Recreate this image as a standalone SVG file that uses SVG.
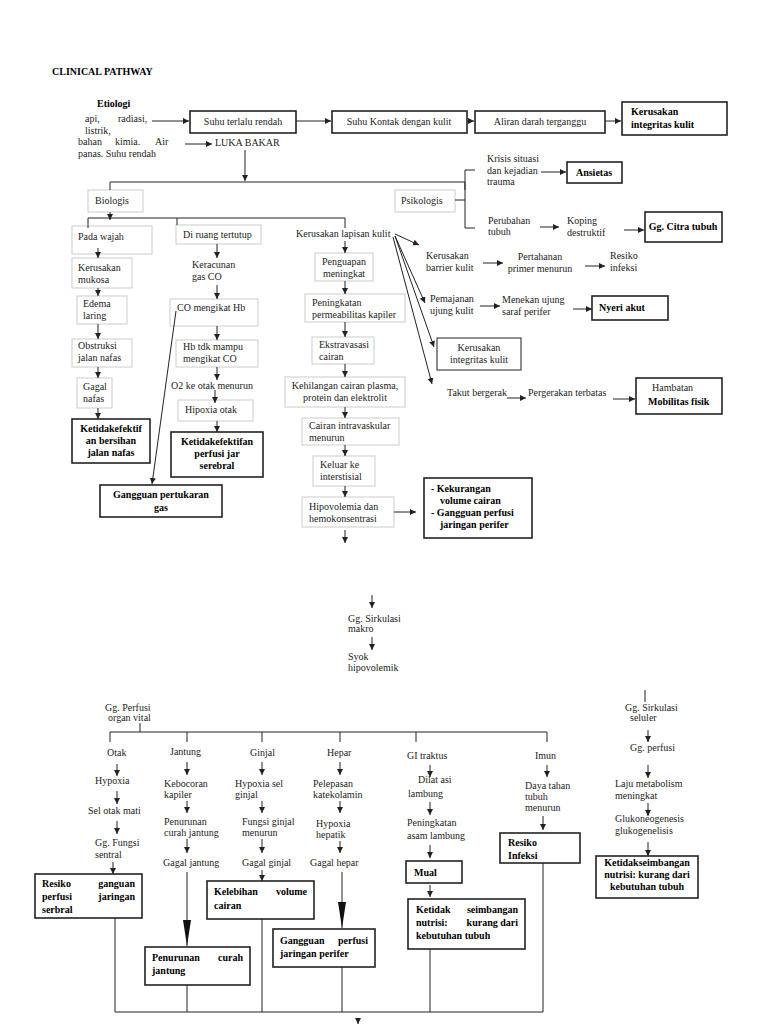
<svg xmlns="http://www.w3.org/2000/svg" width="768" height="1024" viewBox="0 0 768 1024">
<style>
text{font-family:"Liberation Serif",serif;font-size:10px;fill:#222}
.b{font-weight:bold;fill:#000}
.lt{fill:#fff;stroke:#ccc;stroke-width:1}
.bx{fill:#fff;stroke:#222;stroke-width:1.6}
.md{fill:#fff;stroke:#333;stroke-width:1.1}
.c line,.c path,.c polyline{stroke:#222;stroke-width:1;fill:none}
.a{marker-end:url(#ah)}
.m{text-anchor:middle}
.e{text-anchor:end}
</style>
<defs>
<marker id="ah" markerWidth="7" markerHeight="7" refX="6" refY="3" orient="auto" markerUnits="userSpaceOnUse"><path d="M0,0 L6,3 L0,6z" fill="#222"/></marker>
<marker id="big" markerWidth="27" markerHeight="9" refX="26" refY="4" orient="auto" markerUnits="userSpaceOnUse"><path d="M0,0 L26,4 L0,8z" fill="#111"/></marker>
</defs>
<rect width="768" height="1024" fill="#fff"/>
<text x="52" y="75" class="b">CLINICAL PATHWAY</text>

<g id="etiologi"><text x="97" y="107" class="b">Etiologi</text><text x="85" y="122">api,</text><text x="118" y="122">radiasi,</text><text x="85" y="134">listrik,</text><text x="78" y="145">bahan</text><text x="115" y="145">kimia.</text><text x="155" y="145">Air</text><text x="78" y="157">panas. Suhu rendah</text></g>
<g id="n1"><rect class="bx" x="190" y="111" width="106" height="22"/><text x="243" y="125" class="m">Suhu terlalu rendah</text></g>
<g id="n2"><rect class="bx" x="332" y="111" width="135" height="22"/><text x="399" y="125" class="m">Suhu Kontak dengan kulit</text></g>
<g id="n3"><rect class="bx" x="475" y="111" width="130" height="22"/><text x="540" y="125" class="m">Aliran darah terganggu</text></g>
<g id="n4"><rect class="bx" x="622" y="102" width="105" height="33"/><text x="631" y="115" class="b">Kerusakan</text><text x="631" y="128" class="b">integritas kulit</text></g>
<g id="luka"><text x="215" y="146">LUKA BAKAR</text></g>
<g id="biologis"><rect class="lt" x="88" y="190" width="55" height="22"/><text x="95" y="204">Biologis</text></g>
<g id="psikologis"><rect class="lt" x="395" y="190" width="60" height="22"/><text x="401" y="204">Psikologis</text></g>

<g id="c1">
<rect class="lt" x="72" y="226" width="80" height="28"/><text x="78" y="240">Pada wajah</text>
<rect class="lt" x="72" y="258" width="60" height="30"/><text x="78" y="271">Kerusakan</text><text x="78" y="283">mukosa</text>
<rect class="lt" x="77" y="296" width="50" height="28"/><text x="83" y="307">Edema</text><text x="83" y="319">laring</text>
<rect class="lt" x="72" y="339" width="60" height="28"/><text x="78" y="349">Obstruksi</text><text x="78" y="361">jalan nafas</text>
<rect class="lt" x="77" y="378" width="35" height="30"/><text x="83" y="390">Gagal</text><text x="83" y="402">nafas</text>
<rect class="bx" x="72" y="419" width="78" height="44"/><text x="111" y="432" class="b m">Ketidakefektif</text><text x="111" y="444" class="b m">an bersihan</text><text x="111" y="456" class="b m">jalan nafas</text>
</g>
<g id="c2">
<rect class="lt" x="176" y="225" width="85" height="19"/><text x="183" y="238">Di ruang tertutup</text>
<text x="192" y="268">Keracunan</text><text x="192" y="280">gas CO</text>
<rect class="lt" x="170" y="299" width="88" height="27"/><text x="177" y="311">CO mengikat Hb</text>
<rect class="lt" x="176" y="340" width="82" height="27"/><text x="183" y="350">Hb tdk mampu</text><text x="183" y="362">mengikat CO</text>
<text x="171" y="389">O2 ke otak menurun</text>
<rect class="lt" x="178" y="400" width="75" height="21"/><text x="185" y="413">Hipoxia otak</text>
<rect class="bx" x="171" y="432" width="92" height="45"/><text x="217" y="445" class="b m">Ketidakefektifan</text><text x="217" y="457" class="b m">perfusi jar</text><text x="217" y="469" class="b m">serebral</text>
<rect class="bx" x="100" y="485" width="122" height="32"/><text x="161" y="498" class="b m">Gangguan pertukaran</text><text x="161" y="511" class="b m">gas</text>
</g>
<g id="c3">
<text x="296" y="237">Kerusakan lapisan kulit</text>
<rect class="lt" x="315" y="253" width="58" height="28"/><text x="344" y="265" class="m">Penguapan</text><text x="344" y="277" class="m">meningkat</text>
<rect class="lt" x="305" y="294" width="100" height="28"/><text x="312" y="306">Peningkatan</text><text x="312" y="318">permeabilitas kapiler</text>
<rect class="lt" x="312" y="337" width="62" height="27"/><text x="319" y="348">Ekstravasasi</text><text x="319" y="360">cairan</text>
<rect class="lt" x="285" y="377" width="120" height="30"/><text x="345" y="389" class="m">Kehilangan cairan plasma,</text><text x="345" y="401" class="m">protein dan elektrolit</text>
<rect class="lt" x="302" y="418" width="97" height="27"/><text x="309" y="429">Cairan intravaskular</text><text x="309" y="441">menurun</text>
<rect class="lt" x="313" y="456" width="62" height="30"/><text x="320" y="468">Keluar ke</text><text x="320" y="480">interstisial</text>
<rect class="lt" x="302" y="497" width="92" height="30"/><text x="309" y="510">Hipovolemia dan</text><text x="309" y="522">hemokonsentrasi</text>
<rect class="bx" x="424" y="478" width="108" height="60"/><text x="431" y="492" class="b">- Kekurangan</text><text x="440" y="504" class="b">volume cairan</text><text x="431" y="516" class="b">- Gangguan perfusi</text><text x="440" y="528" class="b">jaringan perifer</text>
</g>
<g id="c4">
<text x="426" y="259">Kerusakan</text><text x="426" y="271">barrier kulit</text>
<text x="540" y="260" class="m">Pertahanan</text><text x="540" y="272" class="m">primer menurun</text>
<text x="610" y="259">Resiko</text><text x="610" y="271">infeksi</text>
<text x="430" y="302">Pemajanan</text><text x="430" y="314">ujung kulit</text>
<text x="502" y="303">Menekan ujung</text><text x="502" y="315">saraf perifer</text>
<rect class="bx" x="592" y="296" width="76" height="24"/><text x="599" y="311" class="b">Nyeri akut</text>
<rect class="md" x="437" y="338" width="84" height="32"/><text x="479" y="351" class="m">Kerusakan</text><text x="479" y="363" class="m">integritas kulit</text>
<text x="447" y="396">Takut bergerak</text><text x="528" y="396">Pergerakan terbatas</text>
<rect class="bx" x="636" y="378" width="86" height="36"/><text x="652" y="391">Hambatan</text><text x="648" y="405" class="b">Mobilitas fisik</text>
</g>
<g id="c5">
<text x="487" y="162">Krisis situasi</text><text x="487" y="174">dan kejadian</text><text x="487" y="185">trauma</text>
<rect class="bx" x="567" y="162" width="55" height="21"/><text x="594" y="176" class="b m">Ansietas</text>
<text x="488" y="224">Perubahan</text><text x="488" y="235">tubuh</text>
<text x="567" y="224">Koping</text><text x="567" y="236">destruktif</text>
<rect class="bx" x="645" y="212" width="77" height="30"/><text x="683" y="230" class="b m">Gg. Citra tubuh</text>
</g>

<g id="lower">
<text x="348" y="622">Gg. Sirkulasi</text><text x="348" y="632">makro</text>
<text x="348" y="660">Syok</text><text x="348" y="671">hipovolemik</text>
<text x="105" y="711">Gg. Perfusi</text><text x="108" y="721">organ vital</text>
<text x="625" y="711">Gg. Sirkulasi</text><text x="630" y="721">seluler</text>
</g>
<g id="otak">
<text x="107" y="756">Otak</text><text x="95" y="784">Hypoxia</text><text x="88" y="814">Sel otak mati</text><text x="95" y="846">Gg. Fungsi</text><text x="95" y="858">sentral</text>
<rect class="bx" x="35" y="874" width="107" height="44"/><text x="42" y="887" class="b">Resiko</text><text x="135" y="887" class="b e">ganguan</text><text x="42" y="900" class="b">perfusi</text><text x="135" y="900" class="b e">jaringan</text><text x="42" y="913" class="b">serbral</text>
</g>
<g id="jantung">
<text x="170" y="755">Jantung</text><text x="164" y="787">Kebocoran</text><text x="164" y="798">kapiler</text><text x="164" y="825">Penurunan</text><text x="164" y="836">curah jantung</text><text x="163" y="866">Gagal jantung</text>
<rect class="bx" x="145" y="947" width="105" height="38"/><text x="152" y="961" class="b">Penurunan</text><text x="243" y="961" class="b e">curah</text><text x="152" y="974" class="b">jantung</text>
</g>
<g id="ginjal">
<text x="250" y="756">Ginjal</text><text x="235" y="787">Hypoxia sel</text><text x="235" y="798">ginjal</text><text x="242" y="825">Fungsi ginjal</text><text x="242" y="836">menurun</text><text x="242" y="866">Gagal ginjal</text>
<rect class="bx" x="207" y="881" width="107" height="38"/><text x="214" y="895" class="b">Kelebihan</text><text x="307" y="895" class="b e">volume</text><text x="214" y="909" class="b">cairan</text>
</g>
<g id="hepar">
<text x="327" y="756">Hepar</text><text x="313" y="787">Pelepasan</text><text x="313" y="798">katekolamin</text><text x="316" y="827">Hypoxia</text><text x="316" y="838">hepatik</text><text x="310" y="866">Gagal hepar</text>
<rect class="bx" x="273" y="929" width="102" height="38"/><text x="280" y="944" class="b">Gangguan</text><text x="368" y="944" class="b e">perfusi</text><text x="280" y="957" class="b">jaringan perifer</text>
</g>
<g id="gi">
<text x="407" y="759">GI traktus</text><text x="418" y="783">Dilat asi</text><text x="408" y="797">lambung</text><text x="407" y="826">Peningkatan</text><text x="407" y="839">asam lambung</text>
<rect class="bx" x="406" y="861" width="56" height="22"/><text x="414" y="876" class="b">Mual</text>
<rect class="bx" x="408" y="899" width="117" height="50"/><text x="416" y="913" class="b">Ketidak</text><text x="518" y="913" class="b e">seimbangan</text><text x="416" y="926" class="b">nutrisi:</text><text x="518" y="926" class="b e">kurang dari</text><text x="416" y="939" class="b">kebutuhan tubuh</text>
</g>
<g id="imun">
<text x="535" y="759">Imun</text><text x="525" y="789">Daya tahan</text><text x="525" y="800">tubuh</text><text x="525" y="811">menurun</text>
<rect class="bx" x="500" y="833" width="80" height="30"/><text x="508" y="846" class="b">Resiko</text><text x="508" y="859" class="b">Infeksi</text>
</g>
<g id="seluler">
<text x="630" y="751">Gg. perfusi</text><text x="615" y="787">Laju metabolism</text><text x="615" y="799">meningkat</text><text x="615" y="822">Glukoneogenesis</text><text x="615" y="834">glukogenelisis</text>
<rect class="bx" x="596" y="856" width="102" height="42"/><text x="647" y="866" class="b m">Ketidakseimbangan</text><text x="647" y="878" class="b m">nutrisi: kurang dari</text><text x="647" y="890" class="b m">kebutuhan tubuh</text>
</g>

<g class="c" id="connectors">
<line class="a" x1="152" y1="121" x2="189" y2="121"/>
<line class="a" x1="296" y1="121" x2="331" y2="121"/>
<line class="a" x1="467" y1="121" x2="474" y2="121"/>
<line class="a" x1="605" y1="121" x2="621" y2="121"/>
<line class="a" x1="185" y1="144" x2="212" y2="144"/>
<line class="a" x1="245" y1="150" x2="245" y2="181"/>
<polyline points="110,190 110,182 465,182 465,190"/>
<line class="a" x1="110" y1="212" x2="110" y2="220"/>
<polyline points="88,228 88,218 345,218 345,228"/>
<line x1="177" y1="218" x2="177" y2="225"/>
<line class="a" x1="98" y1="248" x2="98" y2="258"/>
<line class="a" x1="98" y1="288" x2="98" y2="296"/>
<line class="a" x1="98" y1="324" x2="98" y2="339"/>
<line class="a" x1="98" y1="367" x2="98" y2="378"/>
<line class="a" x1="98" y1="408" x2="98" y2="419"/>
<line class="a" x1="217" y1="244" x2="217" y2="258"/>
<line class="a" x1="217" y1="285" x2="217" y2="299"/>
<line class="a" x1="217" y1="326" x2="217" y2="340"/>
<line class="a" x1="217" y1="367" x2="217" y2="380"/>
<line class="a" x1="215" y1="390" x2="215" y2="403"/>
<line class="a" x1="217" y1="421" x2="217" y2="432"/>
<line class="a" x1="176" y1="311" x2="152" y2="484"/>
<line class="a" x1="345" y1="241" x2="345" y2="253"/>
<line class="a" x1="345" y1="281" x2="345" y2="294"/>
<line class="a" x1="345" y1="322" x2="345" y2="337"/>
<line class="a" x1="345" y1="364" x2="345" y2="377"/>
<line class="a" x1="345" y1="407" x2="345" y2="418"/>
<line class="a" x1="345" y1="445" x2="345" y2="456"/>
<line class="a" x1="345" y1="486" x2="345" y2="497"/>
<line class="a" x1="345" y1="530" x2="345" y2="543"/>
<line class="a" x1="394" y1="512" x2="416" y2="512"/>
<line class="a" x1="395" y1="234" x2="419" y2="245"/>
<line class="a" x1="395" y1="236" x2="425" y2="303"/>
<line class="a" x1="395" y1="236" x2="434" y2="347"/>
<line class="a" x1="393" y1="237" x2="432" y2="384"/>
<line class="a" x1="483" y1="263" x2="503" y2="263"/>
<line class="a" x1="585" y1="266" x2="605" y2="266"/>
<line class="a" x1="480" y1="306" x2="500" y2="306"/>
<line class="a" x1="573" y1="309" x2="592" y2="309"/>
<polyline class="a" points="507,398 526,398"/>
<line class="a" x1="613" y1="399" x2="635" y2="399" stroke-width="2"/>
<line x1="455" y1="200" x2="465" y2="200"/>
<polyline points="475,170 465,170 465,228 475,228"/>
<line class="a" x1="541" y1="172" x2="566" y2="172"/>
<line class="a" x1="540" y1="227" x2="559" y2="227"/>
<line class="a" x1="624" y1="230" x2="644" y2="230"/>

<line class="a" x1="372" y1="595" x2="372" y2="608"/>
<line class="a" x1="372" y1="637" x2="372" y2="650"/>
<line x1="645" y1="690" x2="645" y2="702"/>
<line x1="140" y1="723" x2="140" y2="732"/>
<polyline points="110,742 110,732 547,732 547,742"/>
<line x1="187" y1="732" x2="187" y2="742"/>
<line x1="262" y1="732" x2="262" y2="742"/>
<line x1="340" y1="732" x2="340" y2="742"/>
<line x1="416" y1="732" x2="416" y2="742"/>
<line class="a" x1="117" y1="764" x2="117" y2="776"/>
<line class="a" x1="117" y1="791" x2="117" y2="804"/>
<line class="a" x1="117" y1="821" x2="117" y2="834"/>
<line class="a" x1="113" y1="862" x2="113" y2="874"/>
<line class="a" x1="187" y1="762" x2="187" y2="775"/>
<line class="a" x1="187" y1="801" x2="187" y2="813"/>
<line class="a" x1="187" y1="839" x2="187" y2="853"/>
<line x1="187" y1="872" x2="187" y2="946" marker-end="url(#big)"/>
<line class="a" x1="262" y1="762" x2="262" y2="775"/>
<line class="a" x1="262" y1="801" x2="262" y2="813"/>
<line class="a" x1="262" y1="839" x2="262" y2="853"/>
<line class="a" x1="262" y1="870" x2="262" y2="881"/>
<line class="a" x1="340" y1="762" x2="340" y2="775"/>
<line class="a" x1="340" y1="801" x2="340" y2="813"/>
<line class="a" x1="340" y1="841" x2="340" y2="853"/>
<line x1="342" y1="872" x2="342" y2="928" marker-end="url(#big)"/>
<line class="a" x1="430" y1="765" x2="430" y2="777"/>
<line class="a" x1="430" y1="802" x2="430" y2="815"/>
<line class="a" x1="430" y1="845" x2="430" y2="858"/>
<line class="a" x1="430" y1="885" x2="430" y2="897"/>
<line class="a" x1="547" y1="765" x2="547" y2="777"/>
<line class="a" x1="543" y1="816" x2="543" y2="830"/>
<line class="a" x1="648" y1="730" x2="648" y2="742"/>
<line class="a" x1="648" y1="765" x2="648" y2="778"/>
<line class="a" x1="648" y1="803" x2="648" y2="816"/>
<line class="a" x1="648" y1="842" x2="648" y2="856"/>
<line x1="115" y1="918" x2="115" y2="1012"/>
<line x1="187" y1="985" x2="187" y2="1012"/>
<line x1="262" y1="919" x2="262" y2="1012"/>
<line x1="342" y1="967" x2="342" y2="1012"/>
<line x1="430" y1="949" x2="430" y2="1012"/>
<line x1="543" y1="863" x2="543" y2="1012"/>
<line x1="115" y1="1012" x2="543" y2="1012"/>
<line class="a" x1="358" y1="1018" x2="358" y2="1024"/>
</g>
</svg>
